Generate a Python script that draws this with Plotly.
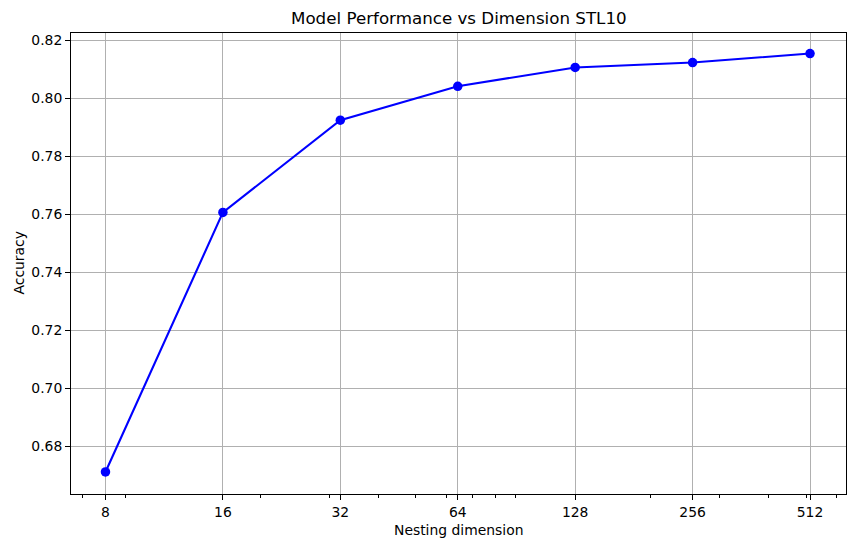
import plotly.graph_objects as go
import math

dims = [8, 16, 32, 64, 128, 256, 512]
accuracy = [0.6712, 0.7607, 0.7925, 0.8042, 0.8107, 0.8124, 0.8155]
x_tick_labels = ["8", "16", "32", "64", "128", "256", "512"]
minor_ticks = [7, 9, 20, 30, 40, 50, 60, 70, 80, 90, 200, 300, 400, 500, 600]
y_ticks = [0.68, 0.70, 0.72, 0.74, 0.76, 0.78, 0.80, 0.82]

FONT = "DejaVu Sans"

# the page body has an 8px default margin; size the figure to fill the rest
fig = go.Figure()
fig.add_trace(go.Scatter(
    x=dims, y=accuracy, mode="lines+markers",
    line=dict(color="#0000ff", width=2.1),
    marker=dict(color="#0000ff", size=9.5, symbol="circle"),
    showlegend=False,
))

fig.update_layout(
    width=847, height=539,
    margin=dict(l=62.5, r=9, t=24.5, b=53),
    paper_bgcolor="white", plot_bgcolor="white",
    font=dict(family=FONT, size=13.9, color="black"),
    annotations=[
        dict(text="Model Performance vs Dimension STL10", xref="paper", yref="paper",
             x=0.5, y=1, xanchor="center", yanchor="bottom", yshift=3,
             showarrow=False, font=dict(family=FONT, size=16.7, color="black")),
        dict(text="Nesting dimension", xref="paper", yref="paper",
             x=0.5, y=0, xanchor="center", yanchor="middle", yshift=-36,
             showarrow=False, font=dict(family=FONT, size=13.9, color="black")),
        dict(text="Accuracy", xref="paper", yref="paper",
             x=0, y=0.5, xanchor="center", yanchor="middle", xshift=-53,
             textangle=-90,
             showarrow=False, font=dict(family=FONT, size=13.9, color="black")),
    ],
)

fig.update_xaxes(
    type="log",
    range=[math.log10(8) - 0.2936 * math.log10(2), math.log10(512) + 0.3064 * math.log10(2)],
    tickmode="array", tickvals=dims, ticktext=x_tick_labels,
    ticks="outside", ticklen=4.9, tickwidth=1.1, tickcolor="black",
    showgrid=True, gridcolor="#b0b0b0", gridwidth=1.1,
    showline=True, linecolor="black", linewidth=1.1, mirror=True,
    zeroline=False,
    minor=dict(tickmode="array", tickvals=minor_ticks, ticks="outside",
               ticklen=2.8, tickwidth=0.8, tickcolor="black", showgrid=False),
    tickfont=dict(family=FONT, size=13.9, color="black"),
)

fig.update_yaxes(
    range=[0.6636, 0.82258],
    tickmode="array", tickvals=y_ticks, ticktext=[f"{v:.2f}" for v in y_ticks],
    ticks="outside", ticklen=4.9, tickwidth=1.1, tickcolor="black",
    showgrid=True, gridcolor="#b0b0b0", gridwidth=1.1,
    showline=True, linecolor="black", linewidth=1.1, mirror=True,
    zeroline=False,
    tickfont=dict(family=FONT, size=13.9, color="black"),
)

fig.write_html("out.html")
